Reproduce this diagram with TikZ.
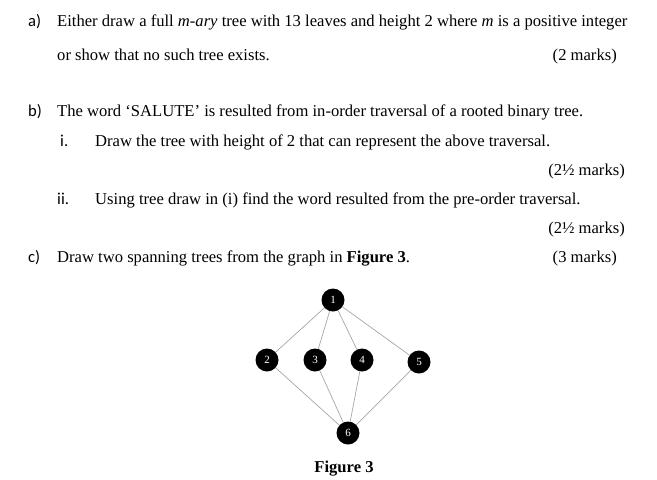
\documentclass[tikz,border=0pt]{standalone}
\usepackage{fontspec}
\setmainfont{Liberation Serif}
\newfontfamily\lab{Carlito}
\begin{document}
\begin{tikzpicture}[x=1pt,y=-1pt,
 t/.style={anchor=base west,inner sep=0,font=\fontsize{16.6}{18}\selectfont},
 r/.style={anchor=base east,inner sep=0,font=\fontsize{16.6}{18}\selectfont},
 l/.style={anchor=base west,inner sep=0,font=\lab\fontsize{16.6}{18}\selectfont},
 v/.style={circle,fill=black,text=white,minimum size=23pt,inner sep=0,font=\fontsize{11}{12}\selectfont},
 e/.style={draw=gray!70,line width=0.7pt}]
\useasboundingbox (0,0) rectangle (657,480);
\node[l] (la) at (28,26) {a)};
\node[t] (ta) at (57,26) {Either draw a full \textit{m-ary} tree with 13 leaves and height 2 where \textit{m} is a positive integer};
\node[t] (ta2) at (57,60) {or show that no such tree exists.};
\node[r] (ma) at (617,60) {(2 marks)};
\node[l] (lb) at (28,116) {b)};
\node[t] (tb) at (57,116) {The word ‘SALUTE’ is resulted from in-order traversal of a rooted binary tree.};
\node[l] (li) at (60,146) {i.};
\node[t] (ti) at (95,146) {Draw the tree with height of 2 that can represent the above traversal.};
\node[r] (mi) at (625,175) {(2½ marks)};
\node[l] (lii) at (57,204) {ii.};
\node[t] (tii) at (95,204) {Using tree draw in (i) find the word resulted from the pre-order traversal.};
\node[r] (mii) at (625,233) {(2½ marks)};
\node[l] (lc) at (28,262) {c)};
\node[t] (tc) at (57,262) {Draw two spanning trees from the graph in \textbf{Figure 3}.};
\node[r] (mc) at (617,262) {(3 marks)};
\node[v] (n1) at (333,300) {1};
\node[v] (n2) at (267,360) {2};
\node[v] (n3) at (315,360) {3};
\node[v] (n4) at (362,360) {4};
\node[v] (n5) at (419,362) {5};
\node[v] (n6) at (348,433) {6};
\foreach \a/\b in {n1/n2,n1/n3,n1/n4,n1/n5,n2/n6,n3/n6,n4/n6,n5/n6} \draw[e] (\a) -- (\b);
\node[anchor=base,inner sep=0,font=\bfseries\fontsize{16.6}{18}\selectfont] (cap) at (344,472) {Figure 3};
\end{tikzpicture}
\end{document}
